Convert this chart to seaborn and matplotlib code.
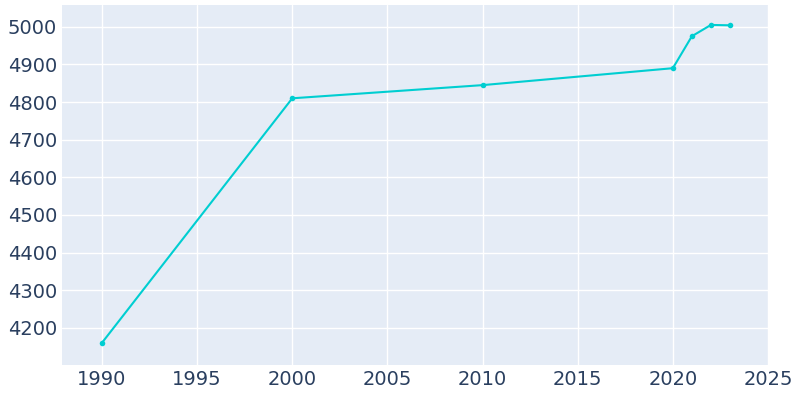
import matplotlib
matplotlib.use("Agg")
import matplotlib.pyplot as plt
import pandas as pd
import seaborn as sns

years = [1990, 2000, 2010, 2020, 2021, 2022, 2023]
population = [4160, 4810, 4845, 4890, 4975, 5005, 5004]

df = pd.DataFrame({"year": years, "population": population})

sns.set_style("darkgrid", {"axes.facecolor": "#E5ECF6", "grid.color": "white"})
plt.rcParams["font.family"] = ["DejaVu Sans"]

fig = plt.figure(figsize=(8, 4), dpi=100)
ax = fig.add_axes([62 / 800, 35 / 400, 706 / 800, 360 / 400])
sns.lineplot(data=df, x="year", y="population", color="#00CED1", linewidth=1.5,
             marker="o", markersize=4, markeredgewidth=0, ax=ax)
ax.set_xlim(1987.9, 2025)
ax.set_ylim(4101, 5058)
ax.set_xticks(range(1990, 2026, 5))
ax.set_yticks(range(4200, 5001, 100))
ax.set_xlabel("")
ax.set_ylabel("")
ax.tick_params(labelsize=14, colors="#2a3f5f", length=0)
for s in ax.spines.values():
    s.set_visible(False)
ax.grid(True, color="white", linewidth=1)
fig.savefig("out.png")
